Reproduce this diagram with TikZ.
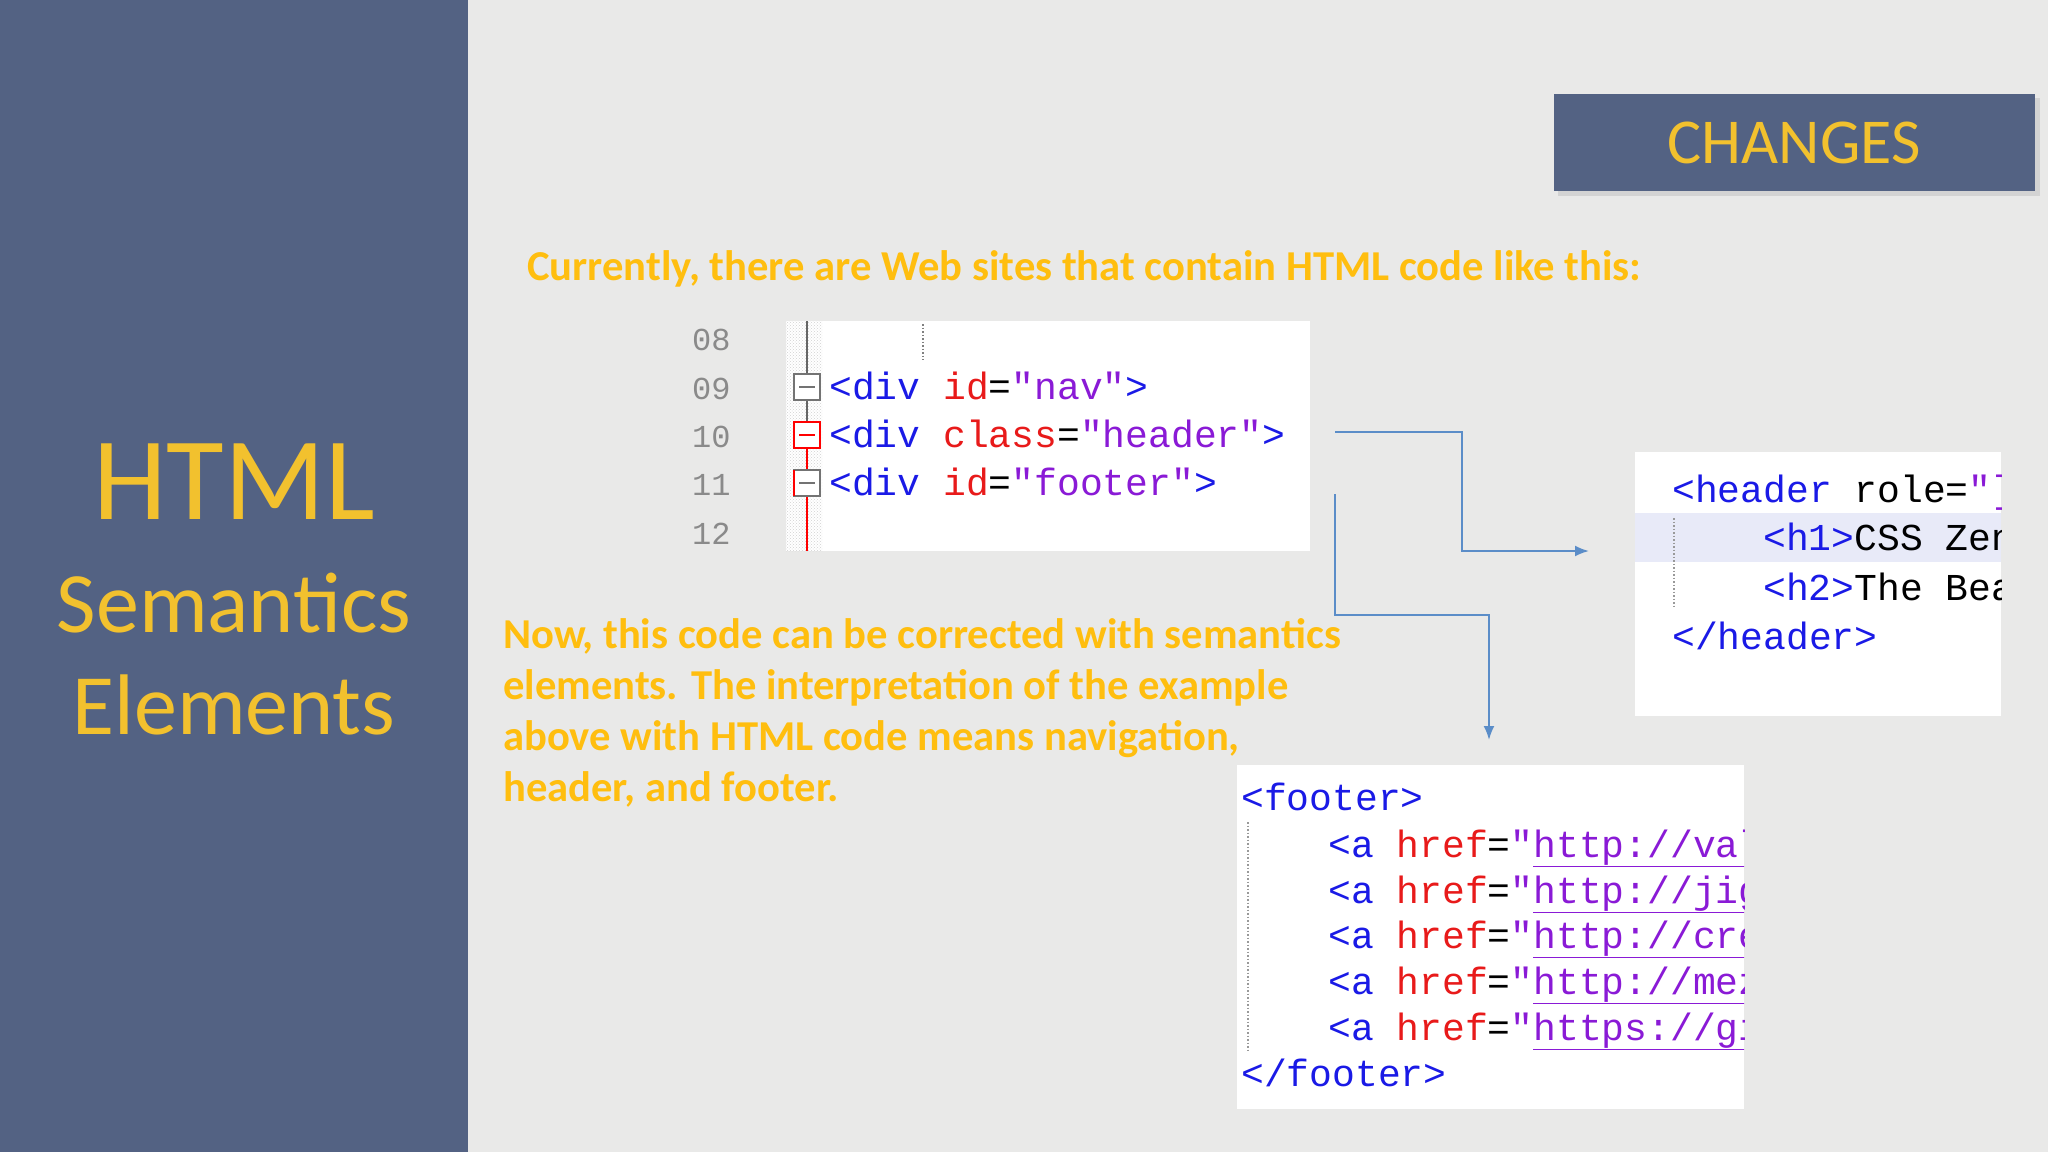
\documentclass[tikz,border=0pt]{standalone}
\usepackage{fontspec}
\setmainfont{Carlito}
\setmonofont{Liberation Mono}
\usetikzlibrary{patterns,arrows.meta}
\definecolor{bg}{HTML}{E9E9E8}
\definecolor{panel}{HTML}{536283}
\definecolor{gold}{HTML}{F2C12E}
\definecolor{orng}{HTML}{FFBE0F}
\definecolor{arr}{HTML}{5B8DC8}
\definecolor{ctag}{HTML}{1A1AE6}
\definecolor{cattr}{HTML}{E81A1A}
\definecolor{cstr}{HTML}{8A1AD6}
\definecolor{lnum}{HTML}{8A8A8A}
\definecolor{hl}{HTML}{E8EAF8}
\tikzset{
  code/.style={anchor=base west,inner sep=0pt,font=\fontsize{38}{38}\selectfont\ttfamily},
  lnumst/.style={anchor=base west,inner sep=0pt,font=\fontsize{32}{32}\selectfont\ttfamily,text=lnum},
  para/.style={anchor=base west,inner sep=0pt,font=\fontsize{42.6}{42.6}\selectfont\bfseries,text=orng},
  conn/.style={draw=arr,line width=2pt,-{Latex[length=14pt,width=11pt]}},
  fold/.style={draw,line width=2pt,fill=white,minimum size=26pt,inner sep=0pt}
}
\newcommand{\T}[1]{\textcolor{ctag}{#1}}
\newcommand{\A}[1]{\textcolor{cattr}{#1}}
\newcommand{\Sv}[1]{\textcolor{cstr}{#1}}
\begin{document}
\begin{tikzpicture}[x=1pt,y=-1pt]
\fill[bg] (0,0) rectangle (2048,1152);
\useasboundingbox (0,0) rectangle (2048,1152);
\fill[panel] (0,0) rectangle (468,1152);
\node[inner sep=0,text=gold,font=\fontsize{118}{118}\selectfont] (t1) at (234,482) {HTML};
\node[inner sep=0,text=gold,font=\fontsize{86}{86}\selectfont] (t2) at (234,603) {Semantics};
\node[inner sep=0,text=gold,font=\fontsize{86}{86}\selectfont] (t3) at (234,705) {Elements};
% CHANGES
\fill[black!25,opacity=0.5] (1558,98) rectangle (2040,196);
\node[fill=panel,minimum width=481pt,minimum height=97pt,inner sep=0] (ch) at (1794,142) {};
\node[text=gold,font=\fontsize{64}{64}\selectfont,inner sep=0] (cht) at (1794,143) {CHANGES};
\node[para] (p0) at (527,280) {Currently, there are Web sites that contain HTML code like this:};
\node[para] (p1) at (503,648) {Now, this code can be corrected with semantics};
\node[para] (p2) at (503,699) {elements. The interpretation of the example};
\node[para] (p3) at (503,750) {above with HTML code means navigation,};
\node[para] (p4) at (503,801) {header, and footer.};
% code box 1
\fill[white] (786,321) rectangle (1310,551);
\fill[pattern=crosshatch dots,pattern color=black!18] (786,321) rectangle (822,551);
\node[lnumst] (n8) at (692,350) {08};
\node[lnumst] (n9) at (692,399) {09};
\node[lnumst] (n10) at (692,447) {10};
\node[lnumst] (n11) at (692,495) {11};
\node[lnumst] (n12) at (692,544) {12};
\draw[black!60,line width=2pt] (807,321) -- (807,435);
\draw[red,line width=2pt] (807,435) -- (807,551);
\draw[black!50,dotted,line width=1.5pt] (923,324) -- (923,360);
\node[fold,draw=black!55] (f9) at (807,387) {};
\draw[black!55,line width=2pt] (799,387) -- (815,387);
\node[fold,draw=red] (f10) at (807,435) {};
\draw[red,line width=2pt] (799,435) -- (815,435);
\node[fold,draw=black!55] (f11) at (807,483) {};
\draw[black!55,line width=2pt] (799,483) -- (815,483);
\draw[red,line width=2pt] (794,470) -- (794,496);
\node[code] (c9) at (829,399) {\T{<div }\A{id}=\Sv{"nav"}\T{>}};
\node[code] (c10) at (829,447) {\T{<div }\A{class}=\Sv{"header"}\T{>}};
\node[code] (c11) at (829,495) {\T{<div }\A{id}=\Sv{"footer"}\T{>}};
% header box
\fill[white] (1635,452) rectangle (2001,716);
\fill[hl] (1635,513) rectangle (2001,562);
\draw[black!40,dotted,line width=1.5pt] (1674,518) -- (1674,608);
\begin{scope}
\clip (1635,452) rectangle (2001,716);
\node[code] (h1) at (1672,502) {\T{<header} role=\Sv{"]}};
\node[code] (h2) at (1763,550) {\T{<h1>}CSS Zen};
\node[code] (h3) at (1763,600) {\T{<h2>}The Beauty};
\node[code] (h4) at (1672,649) {\T{</header>}};
\end{scope}
% footer box
\fill[white] (1237,765) rectangle (1744,1109);
\draw[black!40,dotted,line width=1.5pt] (1248,822) -- (1248,1050);
\begin{scope}
\clip (1237,765) rectangle (1744,1109);
\node[code] (g1) at (1241,810) {\T{<footer>}};
\node[code] (g2) at (1328,857) {\T{<a} \A{href}=\Sv{"\underline{http://valid}}};
\node[code] (g3) at (1328,903) {\T{<a} \A{href}=\Sv{"\underline{http://jigsaw}}};
\node[code] (g4) at (1328,948) {\T{<a} \A{href}=\Sv{"\underline{http://creat}}};
\node[code] (g5) at (1328,994) {\T{<a} \A{href}=\Sv{"\underline{http://mezz}}};
\node[code] (g6) at (1328,1040) {\T{<a} \A{href}=\Sv{"\underline{https://gith}}};
\node[code] (g7) at (1241,1086) {\T{</footer>}};
\end{scope}
% connectors
\coordinate (a1) at (1335,432);
\coordinate (a1e) at (1589,551);
\coordinate (a2) at (1335,494);
\coordinate (a2e) at (1489,740);
\draw[conn] (a1) -- (1462,432) -- (1462,551) -- (a1e);
\draw[conn] (a2) -- (1335,615) -- (1489,615) -- (a2e);
\end{tikzpicture}
\end{document}
